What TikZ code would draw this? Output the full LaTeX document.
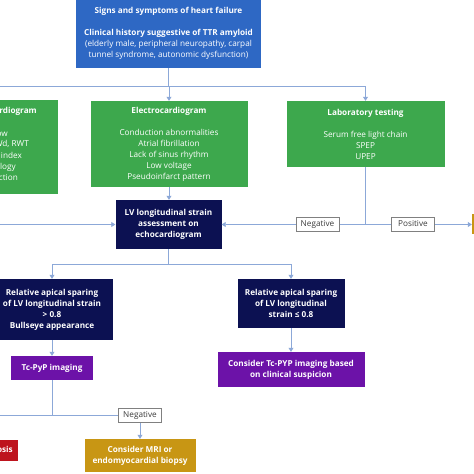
\documentclass[tikz,border=0pt]{standalone}
\usepackage{fontspec}
\setmainfont{Open Sans}
\usetikzlibrary{arrows.meta}
\definecolor{cblue}{RGB}{46,104,196}
\definecolor{cgreen}{RGB}{61,168,77}
\definecolor{cnavy}{RGB}{12,17,82}
\definecolor{cpurple}{RGB}{108,18,168}
\definecolor{cgold}{RGB}{200,150,20}
\definecolor{cred}{RGB}{190,20,30}
\definecolor{cline}{RGB}{140,168,216}
\definecolor{clbl}{RGB}{60,60,60}
\begin{document}
\begin{tikzpicture}[x=1pt,y=-1pt,
  font=\fontsize{8.2}{11}\selectfont,
  box/.style={draw=none, inner sep=0pt, align=center, text=white},
  conn/.style={draw=cline, line width=0.8pt},
  arr/.style={conn, -{Triangle[width=5pt,length=4pt]}},
  lbl/.style={draw=gray, fill=white, text=clbl, inner sep=0pt, minimum width=43pt, minimum height=14pt, line width=0.6pt},
  tail/.style={anchor=east, inner sep=0pt, text=white},
]
\useasboundingbox (0,0) rectangle (474,474);
\clip (0,0) rectangle (474,474);
\fill[white] (0,0) rectangle (474,474);

% boxes
\node[box, fill=cblue, minimum width=185pt, minimum height=69pt] (top) at (168.5,33.5)
  {\textbf{Signs and symptoms of heart failure}\\[11pt]\textbf{Clinical history suggestive of TTR amyloid}\\(elderly male, peripheral neuropathy, carpal\\tunnel syndrome, autonomic dysfunction)};

\node[box, fill=cgreen, minimum width=157pt, minimum height=94pt] (echo) at (-20.5,147) {};
\node[tail] (echoT) at (37,111) {\textbf{Transthoracic echocardiogram}};
\node[tail] (echo1) at (8,133) {Mitral inflow};
\node[tail] (echo2) at (29,144) {IVSd, LVPWd, RWT};
\node[tail] (echo3) at (22,155.5) {LV mass index};
\node[tail] (echo4) at (16,167) {Valve morphology};
\node[tail] (echo5) at (18,178) {Diastolic dysfunction};

\node[box, fill=cgreen, minimum width=157pt, minimum height=86pt] (ecg) at (169,144)
  {\textbf{Electrocardiogram}\\[11pt]Conduction abnormalities\\Atrial fibrillation\\Lack of sinus rhythm\\Low voltage\\Pseudoinfarct pattern};

\node[box, fill=cgreen, minimum width=158pt, minimum height=66pt] (lab) at (365.5,134)
  {\textbf{Laboratory testing}\\[11pt]Serum free light chain\\SPEP\\UPEP};

\node[box, fill=cnavy, minimum width=106pt, minimum height=49pt] (lv) at (168.5,224.5)
  {\textbf{LV longitudinal strain}\\\textbf{assessment on}\\\textbf{echocardiogram}};

\node[box, fill=cgold, minimum width=90pt, minimum height=20pt] (gold) at (517,224) {};

\node[box, fill=cnavy, minimum width=122pt, minimum height=61pt] (ras1) at (52,309.5)
  {\textbf{Relative apical sparing}\\\textbf{of LV longitudinal strain}\\\textbf{> 0.8}\\\textbf{Bullseye appearance}};

\node[box, fill=cnavy, minimum width=107pt, minimum height=49pt] (ras2) at (291,303.5)
  {\textbf{Relative apical sparing}\\\textbf{of LV longitudinal}\\\textbf{strain ≤ 0.8}};

\node[box, fill=cpurple, minimum width=82pt, minimum height=24pt] (tcpyp) at (52,368)
  {\textbf{Tc-PyP imaging}};

\node[box, fill=cpurple, minimum width=147pt, minimum height=35pt] (constc) at (291,369.5)
  {\textbf{Consider Tc-PYP imaging based}\\\textbf{on clinical suspicion}};

\node[box, fill=cgold, minimum width=111pt, minimum height=33pt] (mri) at (140,455.5)
  {\textbf{Consider MRI or}\\\textbf{endomyocardial biopsy}};

\node[box, fill=cred, minimum width=116pt, minimum height=21pt] (red) at (-40,450.5) {};
\node[tail] (redT) at (13,450.5) {\textbf{ATTR amyloidosis}};

% connectors
\coordinate (y86) at (0,86);
\coordinate (y415) at (0,415);
\draw[conn] (top.south) -- (top.south |- y86) coordinate (j1);
\draw[conn] (echo.north |- y86) -- (lab.north |- y86);
\draw[arr] (echo.north |- y86) -- (echo.north);
\draw[arr] (ecg.north |- y86) -- (ecg.north);
\draw[arr] (lab.north |- y86) -- (lab.north);

\draw[arr] (ecg.south) -- (ecg.south |- lv.north);
\draw[arr] (echo.south) |- (lv.west);

\draw[conn] (lab.south) -- (lab.south |- lv.east) coordinate (j2);
\draw[arr] (j2) -- (lv.east);
\draw[arr] (j2) -- (gold.west |- j2);
\node[lbl] (neg1) at (317.5,224) {Negative};
\node[lbl] (pos1) at (413,224) {Positive};

\draw[conn] (lv.south) -- ++(0,15) coordinate (j3);
\draw[arr] (j3) -| (ras1.north);
\draw[arr] (j3) -| (ras2.north);

\draw[arr] (ras1.south) -- (tcpyp.north);
\draw[arr] (ras2.south) -- (constc.north);

\draw[conn] (tcpyp.south) -- (tcpyp.south |- y415) coordinate (j4);
\draw[arr] (j4) -| (mri.north);
\draw[arr] (j4) -| (red.north);
\node[lbl] (neg2) at (mri.north |- j4) {Negative};
\end{tikzpicture}
\end{document}
